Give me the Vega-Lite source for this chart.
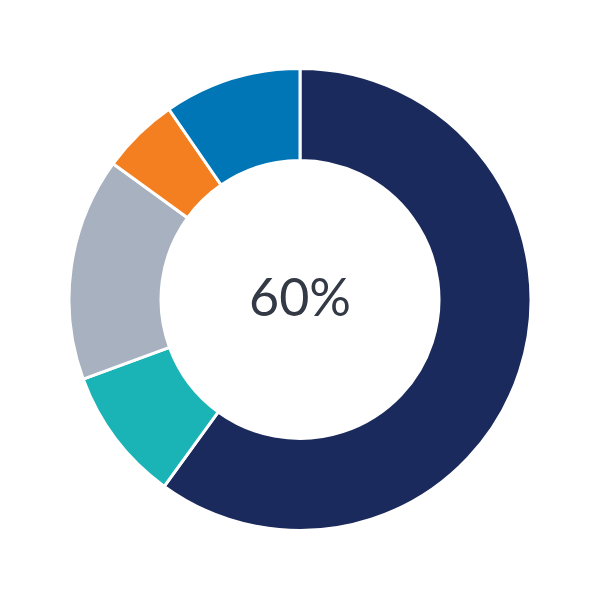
{
  "$schema": "https://vega.github.io/schema/vega-lite/v6.json",
  "autosize": {"type": "fit", "contains": "padding"},
  "width": 600,
  "height": 599,
  "padding": 0,
  "background": "white",
  "view": {"stroke": null},
  "data": {
    "values": [
      {"segment": "A", "rank": 1, "value": 60},
      {"segment": "B", "rank": 2, "value": 9.4},
      {"segment": "C", "rank": 3, "value": 15.6},
      {"segment": "D", "rank": 4, "value": 5.4},
      {"segment": "E", "rank": 5, "value": 9.6}
    ]
  },
  "layer": [
    {
      "mark": {"type": "arc", "outerRadius": 231, "innerRadius": 139, "stroke": "white", "strokeWidth": 3},
      "encoding": {
        "theta": {"field": "value", "type": "quantitative", "stack": true},
        "order": {"field": "rank", "type": "quantitative"},
        "color": {
          "field": "segment",
          "type": "nominal",
          "legend": null,
          "scale": {
            "domain": ["A", "B", "C", "D", "E"],
            "range": ["#1b2a5c", "#1ab3b6", "#a7b1bf", "#f37f20", "#0076b6"]
          }
        }
      }
    },
    {
      "data": {"values": [{"label": "60%"}]},
      "mark": {"type": "text", "font": "Lato", "fontSize": 52, "color": "#333a45", "baseline": "middle", "align": "center"},
      "encoding": {"text": {"field": "label"}}
    }
  ]
}
